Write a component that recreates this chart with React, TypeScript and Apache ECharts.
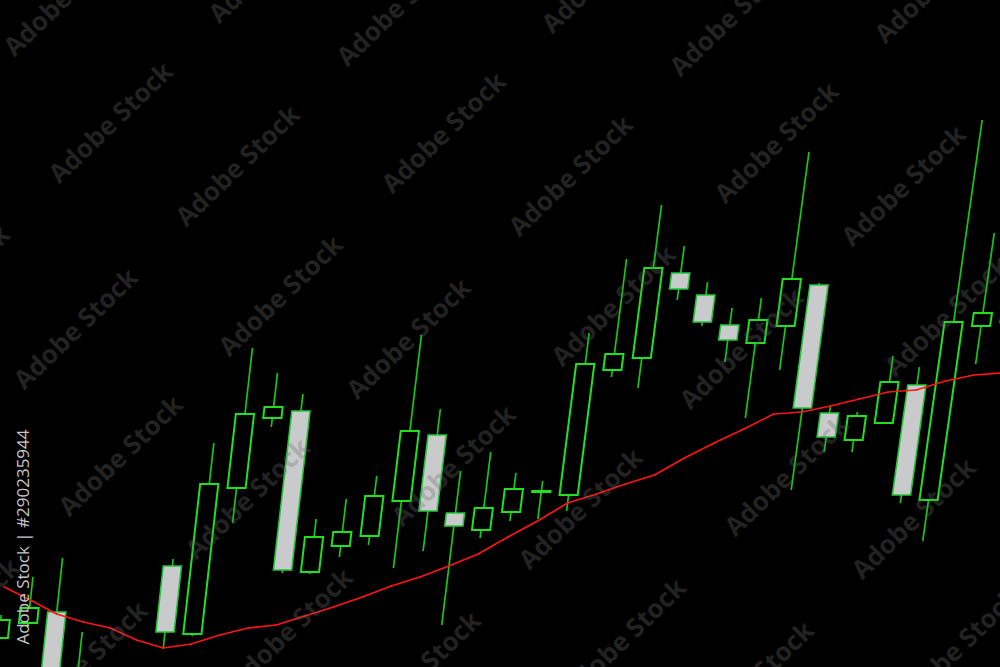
import React, { useEffect, useRef } from "react";
import * as echarts from "echarts";

// OHLC values (price), one per bar, left to right
const opens = [1.2029, 1.2044, 1.2055, 1.1967, 1.1947, 1.1967, 1.2101, 1.2033, 1.2179, 1.2249, 1.2256, 1.2095, 1.2121, 1.2131, 1.2166, 1.2232, 1.2154, 1.2137, 1.2155, 1.2175, 1.2172, 1.2297, 1.2309, 1.2394, 1.2372, 1.2342, 1.2324, 1.2341, 1.2382, 1.2254, 1.2227, 1.2244, 1.2282, 1.2167, 1.2341, 1.2345];
const closes = [1.2047, 1.2059, 1.1967, 1.1987, 1.1977, 1.1982, 1.2035, 1.2183, 1.2253, 1.2260, 1.2097, 1.2130, 1.2135, 1.2171, 1.2236, 1.2156, 1.2141, 1.2159, 1.2178, 1.2176, 1.2303, 1.2313, 1.2399, 1.2378, 1.2345, 1.2327, 1.2347, 1.2388, 1.2259, 1.2230, 1.2251, 1.2285, 1.2172, 1.2345, 1.2354, 1.2358];
const lows = [1.2025, 1.2039, 1.1947, 1.1957, 1.1937, 1.1952, 1.2018, 1.2031, 1.2144, 1.2240, 1.2094, 1.2093, 1.2110, 1.2122, 1.2099, 1.2116, 1.2042, 1.2129, 1.2146, 1.2148, 1.2156, 1.2290, 1.2279, 1.2367, 1.2341, 1.2305, 1.2249, 1.2297, 1.2177, 1.2215, 1.2215, 1.2243, 1.2164, 1.2126, 1.2303, 1.2327];
const highs = [1.2052, 1.2090, 1.2109, 1.2035, 1.1992, 1.1995, 1.2108, 1.2224, 1.2319, 1.2294, 1.2273, 1.2148, 1.2168, 1.2191, 1.2332, 1.2258, 1.2196, 1.2215, 1.2194, 1.2186, 1.2334, 1.2408, 1.2462, 1.2421, 1.2385, 1.2359, 1.2369, 1.2515, 1.2384, 1.2260, 1.2255, 1.2311, 1.2300, 1.2547, 1.2434, 1.2387];
// moving average (red line), one value per bar
const maValues = [1.2080, 1.2067, 1.2053, 1.2045, 1.2039, 1.2027, 1.2019, 1.2023, 1.2032, 1.2039, 1.2042, 1.2051, 1.2060, 1.2070, 1.2081, 1.2090, 1.2101, 1.2113, 1.2130, 1.2146, 1.2164, 1.2173, 1.2183, 1.2192, 1.2209, 1.2224, 1.2238, 1.2253, 1.2255, 1.2261, 1.2268, 1.2275, 1.2277, 1.2286, 1.2292, 1.2294];

const idText = "Adobe Stock | #290235944";
const watermarkText = "Adobe Stock";

const W = 1000;
const H = 667;
// perspective lean of the photographed screen
const lean = (x: number) => 0.105 + 0.00004 * x;
const skew = (x: number, y: number, ref: number): [number, number] => [x + lean(ref) * (H - y), y];

export default function App() {
  const ref = useRef<HTMLDivElement>(null);
  useEffect(() => {
    if (!ref.current) return;
    const chart = echarts.init(ref.current, undefined, { renderer: "svg" });

    const candleData = opens.map((o, i) => [i, o, closes[i], lows[i], highs[i]]);
    const maData = maValues.map((v, i) => [i, v]);

    const marks: any[] = [];
    const base = [[110, 122], [237, 165], [75, 328], [280, 295]];
    for (let m = -1; m <= 3; m++) {
      for (let n = -1; n <= 2; n++) {
        for (const p of base) {
          const x = p[0] + m * 333 + n * 10;
          const y = p[1] + m * 10 + n * 333;
          if (x < -100 || x > 1100 || y < -100 || y > 767) continue;
          marks.push({
            type: "text",
            x,
            y,
            rotation: (44 * Math.PI) / 180,
            z: 100,
            silent: true,
            style: {
              text: watermarkText,
              fill: "rgba(110,110,110,0.33)",
              font: "bold 26px 'Open Sans', sans-serif",
              textAlign: "center",
              textVerticalAlign: "middle",
              verticalAlign: "middle",
            },
          });
        }
      }
    }
    marks.push({
      type: "text",
      x: 22,
      y: 537,
      rotation: Math.PI / 2,
      z: 110,
      silent: true,
      style: {
        text: idText,
        fill: "#c6c6c6",
        font: "17px 'Open Sans', sans-serif",
        textAlign: "center",
        textVerticalAlign: "middle",
        verticalAlign: "middle",
      },
    });

    const step = 27.55;
    const x0 = -4.2;
    chart.setOption({
      animation: false,
      backgroundColor: "#000000",
      grid: { left: 0, right: 0, top: 0, bottom: 0 },
      xAxis: { type: "value", min: -x0 / step, max: (W - x0) / step, show: false },
      yAxis: { type: "value", min: 1.2, max: 1.2667, show: false, splitLine: { show: false } },
      graphic: marks,
      series: [
        {
          type: "custom",
          z: 2,
          data: candleData,
          encode: { x: 0, y: [1, 2, 3, 4] },
          renderItem: (params: any, api: any) => {
            const i = api.value(0);
            const o = api.value(1);
            const c = api.value(2);
            const l = api.value(3);
            const h = api.value(4);
            const [cx, yO] = api.coord([i, o]);
            const yC = api.coord([i, c])[1];
            const yL = api.coord([i, l])[1];
            const yH = api.coord([i, h])[1];
            const bw = api.size([1, 0])[0] * 0.66;
            const top = Math.min(yO, yC);
            const bot = Math.max(yO, yC);
            const bull = c >= o;
            const a = skew(cx, yH, cx);
            const b = skew(cx, yL, cx);
            return {
              type: "group",
              children: [
                {
                  type: "line",
                  shape: { x1: a[0], y1: a[1], x2: b[0], y2: b[1] },
                  style: { stroke: "#16c816", lineWidth: 1.7 },
                },
                {
                  type: "polygon",
                  shape: {
                    points: [
                      skew(cx - bw / 2, top, cx),
                      skew(cx + bw / 2, top, cx),
                      skew(cx + bw / 2, bot, cx),
                      skew(cx - bw / 2, bot, cx),
                    ],
                  },
                  style: {
                    fill: bull ? "#000000" : "#c9cacc",
                    stroke: bull ? "#20e020" : "#22c83a",
                    lineWidth: bull ? 2 : 1.6,
                  },
                },
              ],
            };
          },
        },
        {
          type: "custom",
          z: 5,
          data: maData,
          encode: { x: 0, y: 1 },
          renderItem: (params: any, api: any) => {
            const i = api.value(0);
            if (i < 1) return null;
            const p1 = api.coord([i - 1, maValues[i - 1]]);
            const p2 = api.coord([i, api.value(1)]);
            const a = skew(p1[0], p1[1], p1[0]);
            const b = skew(p2[0], p2[1], p2[0]);
            return {
              type: "line",
              shape: { x1: a[0], y1: a[1], x2: b[0], y2: b[1] },
              style: { stroke: "#ff1414", lineWidth: 1.7, lineCap: "round" },
            };
          },
        },
      ],
    });
    return () => chart.dispose();
  }, []);
  return (
    <div
      ref={ref}
      style={{ position: "fixed", left: 0, top: 0, width: W, height: H, background: "#000" }}
    />
  );
}
